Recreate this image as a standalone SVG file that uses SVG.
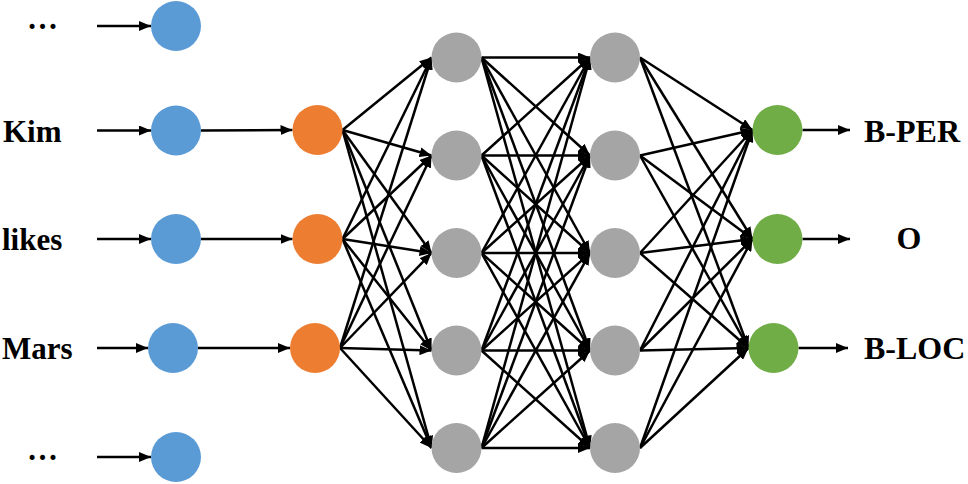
<svg xmlns="http://www.w3.org/2000/svg" width="968" height="484" viewBox="0 0 968 484">
<defs>
<marker id="ah" markerUnits="userSpaceOnUse" markerWidth="12" markerHeight="10" refX="12" refY="5" orient="auto">
<path d="M0,0 L12,5 L0,10 z" fill="#000"/>
</marker>
<style>
.blue{fill:#5B9BD5}
.orange{fill:#ED7D31}
.gray{fill:#A5A5A5}
.green{fill:#70AD47}
.lbl{font-family:"Liberation Serif","Times New Roman",serif;font-weight:bold;font-size:31px;fill:#000}
.out{font-size:32px}
#connectors line{stroke:#000;stroke-width:2.5;marker-end:url(#ah)}
</style>
</defs>
<rect width="968" height="484" fill="#fff"/>
<g id="connectors">
<line x1="97" y1="26" x2="151" y2="26"/>
<line x1="97" y1="130.5" x2="151" y2="130.5"/>
<line x1="97" y1="239" x2="151" y2="239"/>
<line x1="97" y1="348" x2="148" y2="348"/>
<line x1="97" y1="457" x2="151" y2="457"/>
<line x1="201" y1="130.5" x2="292.5" y2="130"/>
<line x1="201" y1="239" x2="292.5" y2="239"/>
<line x1="198" y1="348" x2="290" y2="348"/>
<line x1="342.5" y1="130" x2="431.5" y2="57.5"/>
<line x1="342.5" y1="130" x2="431.5" y2="155.5"/>
<line x1="342.5" y1="130" x2="431.5" y2="253"/>
<line x1="342.5" y1="130" x2="431.5" y2="350.5"/>
<line x1="342.5" y1="130" x2="431.5" y2="448"/>
<line x1="342.5" y1="239" x2="431.5" y2="57.5"/>
<line x1="342.5" y1="239" x2="431.5" y2="155.5"/>
<line x1="342.5" y1="239" x2="431.5" y2="253"/>
<line x1="342.5" y1="239" x2="431.5" y2="350.5"/>
<line x1="342.5" y1="239" x2="431.5" y2="448"/>
<line x1="340" y1="348" x2="431.5" y2="57.5"/>
<line x1="340" y1="348" x2="431.5" y2="155.5"/>
<line x1="340" y1="348" x2="431.5" y2="253"/>
<line x1="340" y1="348" x2="431.5" y2="350.5"/>
<line x1="340" y1="348" x2="431.5" y2="448"/>
<line x1="481.5" y1="57.5" x2="590" y2="57.5"/>
<line x1="481.5" y1="57.5" x2="590" y2="155.5"/>
<line x1="481.5" y1="57.5" x2="590" y2="253"/>
<line x1="481.5" y1="57.5" x2="590" y2="350.5"/>
<line x1="481.5" y1="57.5" x2="590" y2="448"/>
<line x1="481.5" y1="155.5" x2="590" y2="57.5"/>
<line x1="481.5" y1="155.5" x2="590" y2="155.5"/>
<line x1="481.5" y1="155.5" x2="590" y2="253"/>
<line x1="481.5" y1="155.5" x2="590" y2="350.5"/>
<line x1="481.5" y1="155.5" x2="590" y2="448"/>
<line x1="481.5" y1="253" x2="590" y2="57.5"/>
<line x1="481.5" y1="253" x2="590" y2="155.5"/>
<line x1="481.5" y1="253" x2="590" y2="253"/>
<line x1="481.5" y1="253" x2="590" y2="350.5"/>
<line x1="481.5" y1="253" x2="590" y2="448"/>
<line x1="481.5" y1="350.5" x2="590" y2="57.5"/>
<line x1="481.5" y1="350.5" x2="590" y2="155.5"/>
<line x1="481.5" y1="350.5" x2="590" y2="253"/>
<line x1="481.5" y1="350.5" x2="590" y2="350.5"/>
<line x1="481.5" y1="350.5" x2="590" y2="448"/>
<line x1="481.5" y1="448" x2="590" y2="57.5"/>
<line x1="481.5" y1="448" x2="590" y2="155.5"/>
<line x1="481.5" y1="448" x2="590" y2="253"/>
<line x1="481.5" y1="448" x2="590" y2="350.5"/>
<line x1="481.5" y1="448" x2="590" y2="448"/>
<line x1="640" y1="57.5" x2="752.5" y2="130"/>
<line x1="640" y1="57.5" x2="752.5" y2="239"/>
<line x1="640" y1="57.5" x2="748.5" y2="348"/>
<line x1="640" y1="155.5" x2="752.5" y2="130"/>
<line x1="640" y1="155.5" x2="752.5" y2="239"/>
<line x1="640" y1="155.5" x2="748.5" y2="348"/>
<line x1="640" y1="253" x2="752.5" y2="130"/>
<line x1="640" y1="253" x2="752.5" y2="239"/>
<line x1="640" y1="253" x2="748.5" y2="348"/>
<line x1="640" y1="350.5" x2="752.5" y2="130"/>
<line x1="640" y1="350.5" x2="752.5" y2="239"/>
<line x1="640" y1="350.5" x2="748.5" y2="348"/>
<line x1="640" y1="448" x2="752.5" y2="130"/>
<line x1="640" y1="448" x2="752.5" y2="239"/>
<line x1="640" y1="448" x2="748.5" y2="348"/>
<line x1="802.5" y1="130" x2="850" y2="130"/>
<line x1="802.5" y1="239" x2="850" y2="239"/>
<line x1="798.5" y1="348" x2="848" y2="348"/>
</g>
<g id="labels">
<text class="lbl" x="27" y="29">…</text>
<text class="lbl" x="3" y="141.5">Kim</text>
<text class="lbl" x="2" y="250">likes</text>
<text class="lbl" x="2" y="359">Mars</text>
<text class="lbl" x="27" y="460">…</text>
<text class="lbl out" x="864" y="141.5">B-PER</text>
<text class="lbl out" x="909" y="249" text-anchor="middle">O</text>
<text class="lbl out" x="864" y="358.5">B-LOC</text>
</g>
<g id="in0"><circle class="blue" cx="176" cy="26" r="25"/></g>
<g id="in1"><circle class="blue" cx="176" cy="130.5" r="25"/></g>
<g id="in2"><circle class="blue" cx="176" cy="239" r="25"/></g>
<g id="in3"><circle class="blue" cx="173" cy="348" r="25"/></g>
<g id="in4"><circle class="blue" cx="176" cy="457" r="25"/></g>
<g id="emb1"><circle class="orange" cx="317.5" cy="130" r="25"/></g>
<g id="emb2"><circle class="orange" cx="317.5" cy="239" r="25"/></g>
<g id="emb3"><circle class="orange" cx="315" cy="348" r="25"/></g>
<g id="h1_1"><circle class="gray" cx="456.5" cy="57.5" r="25"/></g>
<g id="h1_2"><circle class="gray" cx="456.5" cy="155.5" r="25"/></g>
<g id="h1_3"><circle class="gray" cx="456.5" cy="253" r="25"/></g>
<g id="h1_4"><circle class="gray" cx="456.5" cy="350.5" r="25"/></g>
<g id="h1_5"><circle class="gray" cx="456.5" cy="448" r="25"/></g>
<g id="h2_1"><circle class="gray" cx="615" cy="57.5" r="25"/></g>
<g id="h2_2"><circle class="gray" cx="615" cy="155.5" r="25"/></g>
<g id="h2_3"><circle class="gray" cx="615" cy="253" r="25"/></g>
<g id="h2_4"><circle class="gray" cx="615" cy="350.5" r="25"/></g>
<g id="h2_5"><circle class="gray" cx="615" cy="448" r="25"/></g>
<g id="out1"><circle class="green" cx="777.5" cy="130" r="25"/></g>
<g id="out2"><circle class="green" cx="777.5" cy="239" r="25"/></g>
<g id="out3"><circle class="green" cx="773.5" cy="348" r="25"/></g>
</svg>
